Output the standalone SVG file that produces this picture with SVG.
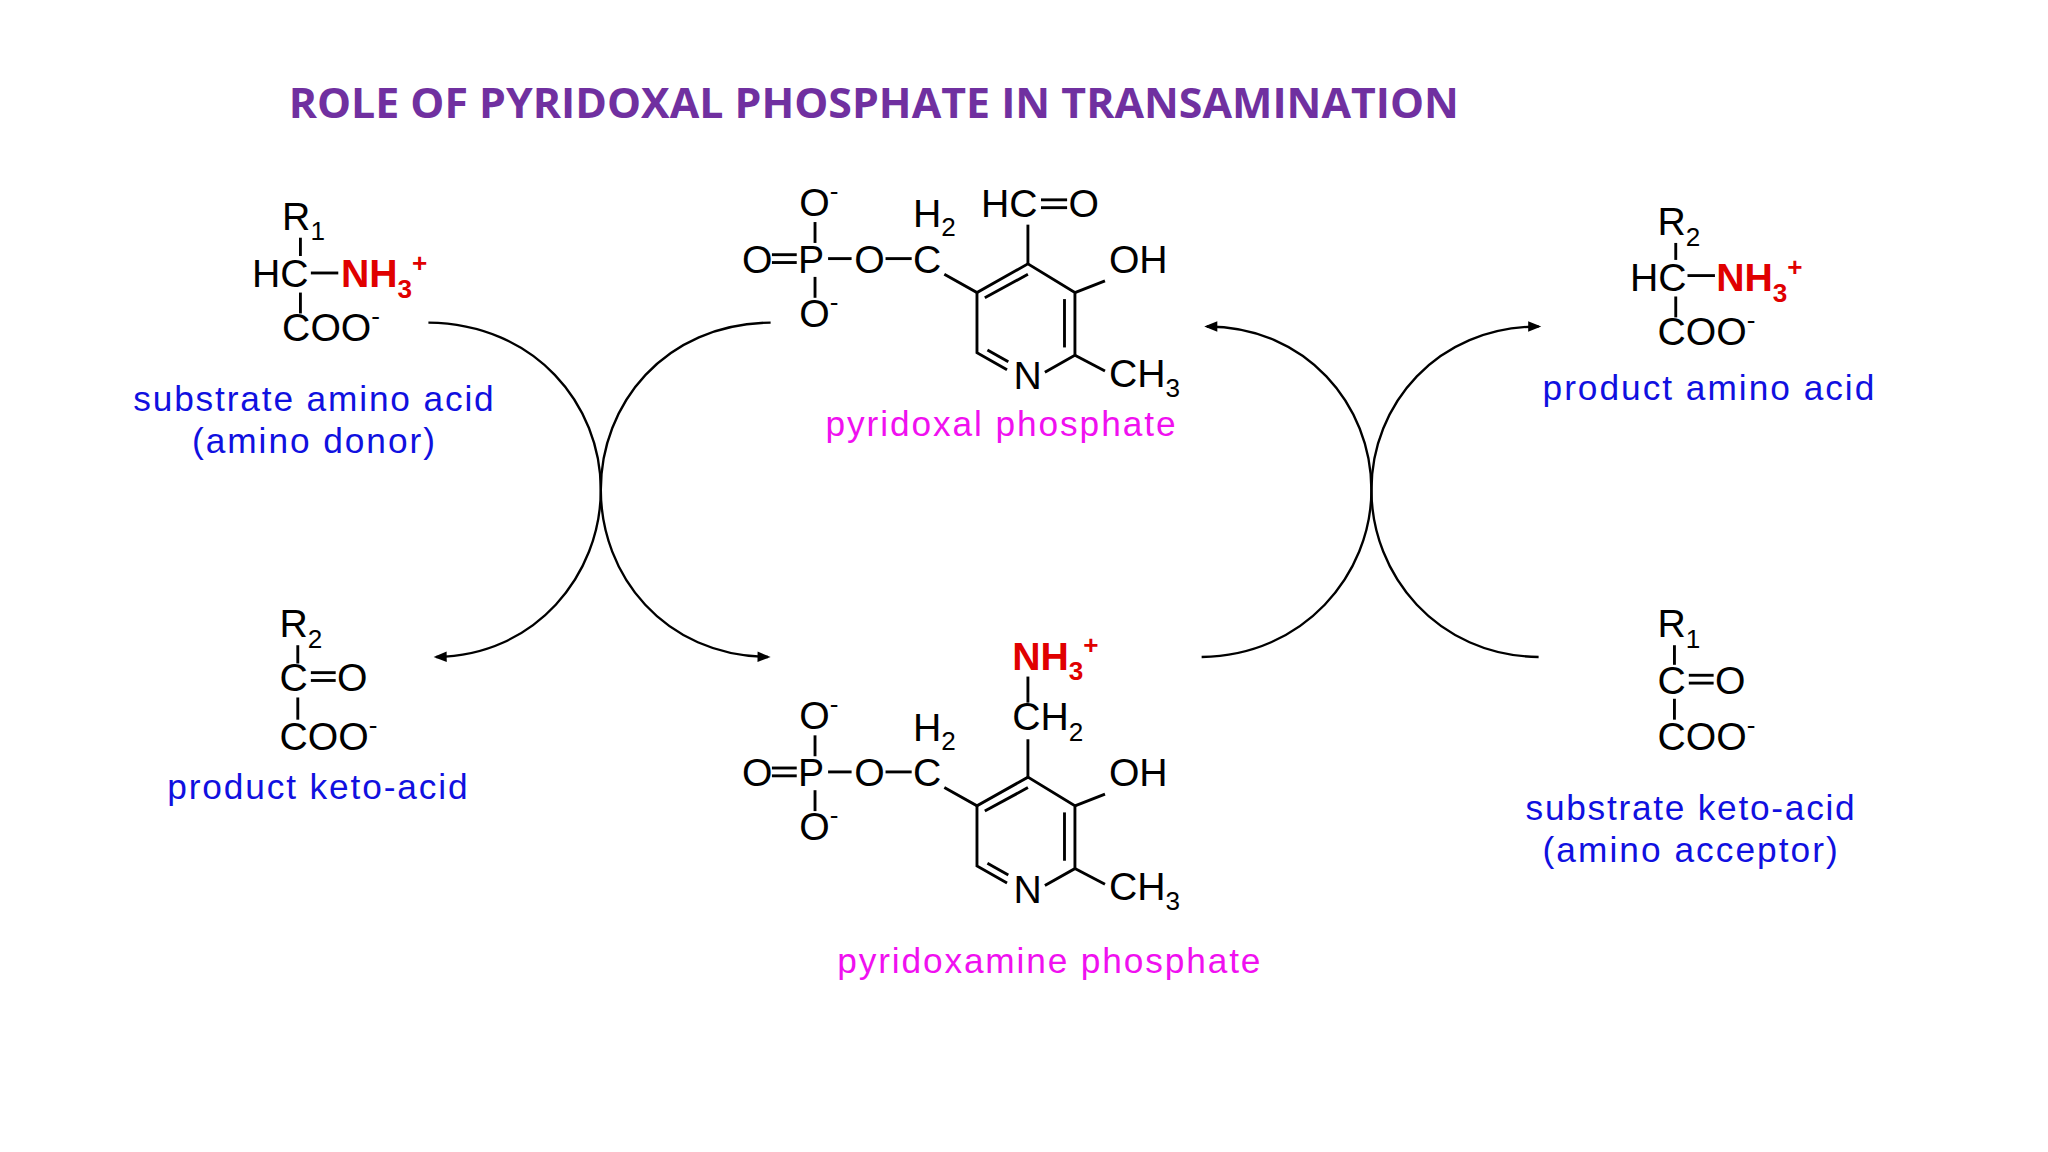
<svg xmlns="http://www.w3.org/2000/svg" width="2048" height="1152" viewBox="0 0 2048 1152">
<style>
.c{font-family:"Liberation Sans",Arial,sans-serif;font-size:30px;fill:#000}
.r{fill:#e00000;font-weight:bold}
.b{font-family:"Liberation Sans",Arial,sans-serif;font-size:27px;fill:#1010e0}
.m{font-family:"Liberation Sans",Arial,sans-serif;font-size:27px;fill:#f010f0}
.s{font-size:20px}
.l{stroke:#000;stroke-width:2.2;fill:none}
.a{stroke:#000;stroke-width:1.8;fill:none}
</style>
<defs>
<marker id="ah2" viewBox="0 0 10 10" refX="8" refY="5" markerWidth="12" markerHeight="10" orient="auto" markerUnits="userSpaceOnUse"><path d="M0,1 L10,5 L0,9 z" fill="#000"/></marker>
<g id="pyr">
<text class="c" x="612" y="165">O<tspan class="s" dy="-12">-</tspan></text>
<line class="l" x1="624" y1="170" x2="624" y2="186"/>
<text class="c" x="568" y="209">O</text>
<line class="l" x1="591" y1="195" x2="610" y2="195"/>
<line class="l" x1="591" y1="201" x2="610" y2="201"/>
<text class="c" x="611" y="209">P</text>
<line class="l" x1="634" y1="198" x2="652" y2="198"/>
<text class="c" x="654" y="209">O</text>
<line class="l" x1="678" y1="198" x2="698" y2="198"/>
<text class="c" x="699" y="209">C</text>
<text class="c" x="699" y="174">H<tspan class="s" dy="7">2</tspan></text>
<line class="l" x1="624" y1="212" x2="624" y2="228"/>
<text class="c" x="612" y="250">O<tspan class="s" dy="-12">-</tspan></text>
<polyline class="l" points="723,210 748,224 787,202 823,224 823,272 800,285"/>
<line class="l" x1="754" y1="228" x2="787" y2="210"/>
<line class="l" x1="815" y1="229" x2="815" y2="266"/>
<polyline class="l" points="748,224 748,270 771,283"/>
<line class="l" x1="756" y1="268" x2="772" y2="277"/>
<text class="c" x="776" y="298">N</text>
<line class="l" x1="823" y1="224" x2="846" y2="215"/>
<text class="c" x="849" y="209">OH</text>
<line class="l" x1="823" y1="272" x2="846" y2="284"/>
<text class="c" x="849" y="296">CH<tspan class="s" dy="8">3</tspan></text>
</g>
</defs>
<g transform="scale(1.30612)">
<g id="title"><text x="221" y="90" font-family="'Open Sans','Liberation Sans',sans-serif" font-weight="bold" font-size="32" fill="#7030a0" textLength="896" lengthAdjust="spacingAndGlyphs">ROLE OF PYRIDOXAL PHOSPHATE IN TRANSAMINATION</text></g>

<g id="substrate-amino-acid">
<text class="c" x="216" y="176">R<tspan class="s" dy="8">1</tspan></text>
<line class="l" x1="230" y1="182" x2="230" y2="196"/>
<text class="c" x="193" y="220">HC</text>
<line class="l" x1="238" y1="209" x2="259" y2="209"/>
<text class="c r" x="261" y="220">NH<tspan class="s" dy="8">3</tspan><tspan class="s" dy="-20">+</tspan></text>
<line class="l" x1="230" y1="224" x2="230" y2="240"/>
<text class="c" x="216" y="261">COO<tspan class="s" dy="-12">-</tspan></text>
<text class="b" x="240" y="315" text-anchor="middle" textLength="276">substrate amino acid</text>
<text class="b" x="240" y="347" text-anchor="middle" textLength="186">(amino donor)</text>
</g>

<g id="product-keto-acid">
<text class="c" x="214" y="488">R<tspan class="s" dy="8">2</tspan></text>
<line class="l" x1="228" y1="494" x2="228" y2="508"/>
<text class="c" x="214" y="529">C</text>
<line class="l" x1="238" y1="515" x2="257" y2="515"/>
<line class="l" x1="238" y1="521" x2="257" y2="521"/>
<text class="c" x="258" y="529">O</text>
<line class="l" x1="228" y1="534" x2="228" y2="551"/>
<text class="c" x="214" y="574">COO<tspan class="s" dy="-12">-</tspan></text>
<text class="b" x="243" y="612" text-anchor="middle" textLength="230">product keto-acid</text>
</g>

<g id="product-amino-acid">
<text class="c" x="1269" y="180">R<tspan class="s" dy="8">2</tspan></text>
<line class="l" x1="1283" y1="186" x2="1283" y2="199"/>
<text class="c" x="1248" y="223">HC</text>
<line class="l" x1="1292" y1="211" x2="1313" y2="211"/>
<text class="c r" x="1314" y="223">NH<tspan class="s" dy="8">3</tspan><tspan class="s" dy="-20">+</tspan></text>
<line class="l" x1="1283" y1="227" x2="1283" y2="243"/>
<text class="c" x="1269" y="264">COO<tspan class="s" dy="-12">-</tspan></text>
<text class="b" x="1308" y="306" text-anchor="middle" textLength="254">product amino acid</text>
</g>

<g id="substrate-keto-acid">
<text class="c" x="1269" y="488">R<tspan class="s" dy="8">1</tspan></text>
<line class="l" x1="1282" y1="494" x2="1282" y2="509"/>
<text class="c" x="1269" y="531">C</text>
<line class="l" x1="1293" y1="517" x2="1312" y2="517"/>
<line class="l" x1="1293" y1="523" x2="1312" y2="523"/>
<text class="c" x="1313" y="531">O</text>
<line class="l" x1="1282" y1="535" x2="1282" y2="551"/>
<text class="c" x="1269" y="574">COO<tspan class="s" dy="-12">-</tspan></text>
<text class="b" x="1294" y="628" text-anchor="middle" textLength="252">substrate keto-acid</text>
<text class="b" x="1294" y="660" text-anchor="middle" textLength="226">(amino acceptor)</text>
</g>

<g id="pyridoxal-phosphate">
<use href="#pyr"/>
<line class="l" x1="787" y1="202" x2="787" y2="172"/>
<text class="c" x="751" y="166">HC</text>
<line class="l" x1="797" y1="153" x2="817" y2="153"/>
<line class="l" x1="797" y1="159" x2="817" y2="159"/>
<text class="c" x="818" y="166">O</text>
<text class="m" x="766" y="334" text-anchor="middle" textLength="268">pyridoxal phosphate</text>
</g>

<g id="pyridoxamine-phosphate">
<use href="#pyr" y="393"/>
<text class="c r" x="775" y="513">NH<tspan class="s" dy="8">3</tspan><tspan class="s" dy="-20">+</tspan></text>
<line class="l" x1="787" y1="518" x2="787" y2="538"/>
<text class="c" x="775" y="559">CH<tspan class="s" dy="8">2</tspan></text>
<line class="l" x1="787" y1="566" x2="787" y2="595"/>
<text class="m" x="803" y="745" text-anchor="middle" textLength="324">pyridoxamine phosphate</text>
</g>

<g id="connectors">
<path class="a" d="M328,247 C410,248 460,310 460,375 C460,440 410,502 334,503" marker-end="url(#ah2)"/>
<path class="a" d="M590,247 C508,248 460,310 460,375 C460,440 508,502 588,503" marker-end="url(#ah2)"/>
<path class="a" d="M1178,503 C1100,502 1050,440 1050,375 C1050,310 1000,250 924,250" marker-end="url(#ah2)"/>
<path class="a" d="M920,503 C998,502 1050,440 1050,375 C1050,310 1100,250 1178,250" marker-end="url(#ah2)"/>
</g>
</g>
</svg>
